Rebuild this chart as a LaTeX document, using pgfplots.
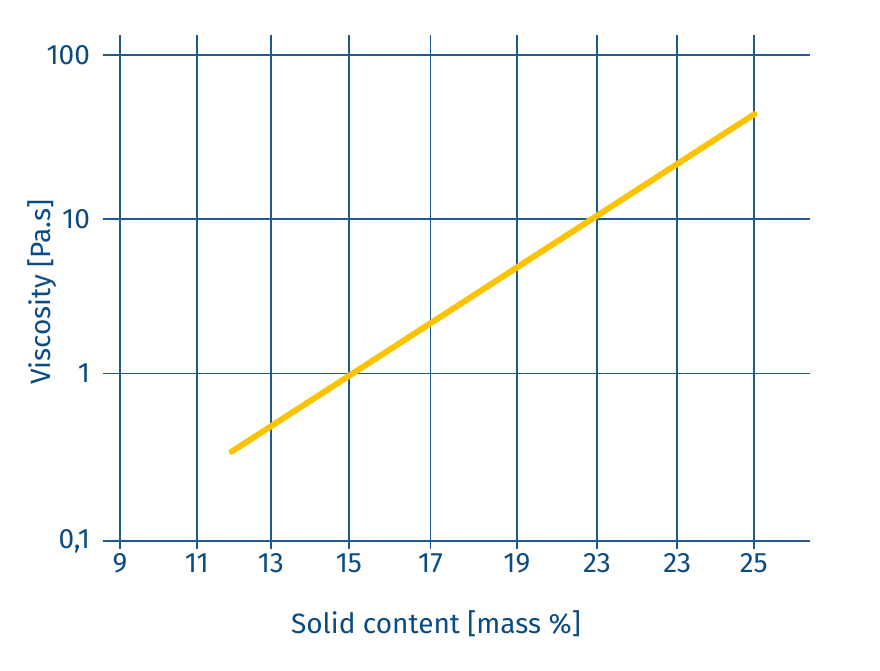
\documentclass[border=0pt]{standalone}
\usepackage{fontspec}
\setmainfont{Fira Sans}
\usepackage{pgfplots}
\pgfplotsset{compat=1.18}
\definecolor{navy}{RGB}{10,75,130}
\definecolor{gridblue}{RGB}{30,90,145}
\definecolor{gold}{RGB}{252,196,0}
\begin{document}
\begin{tikzpicture}
\begin{axis}[
  scale only axis, width=530.5pt, height=379.5pt,
  xmin=8.565, xmax=26.42,
  ymode=log, ymin=0.1, ymax=132.9,
  axis line style={draw=none},
  xtick={9,10.94,12.81,14.78,16.84,19.02,21.04,23.07,25},
  xticklabels={9,11,13,15,17,19,23,23,25},
  ytick={0.1,1.084,9.72,100},
  yticklabels={0{,}1,1,10,100},
  minor ytick={}, minor xtick={},
  grid=major,
  major grid style={gridblue, line width=1.2pt},
  tick align=outside, xtick pos=lower, ytick pos=left,
  major tick length=6pt,
  xtick style={gridblue, line width=1.2pt},
  ytick style={draw=none},
  ticklabel style={font=\fontsize{21}{25}\selectfont, text=navy},
  label style={font=\fontsize{21}{25}\selectfont, text=navy},
  /pgf/number format/assume math mode=true,
  xlabel={Solid content [mass \%]},
  ylabel={Viscosity [Pa.s]},
  xlabel style={at={(rel axis cs:0.4712,-0.1838)}, anchor=base},
  ylabel style={at={(rel axis cs:-0.0745,0.492)}, anchor=base},
  clip=false,
]
\addplot[gold, line width=4.5pt, line cap=round] coordinates {(11.82,0.356) (25.02,43.2)};
\coordinate (bl) at (rel axis cs:-0.1452,-0.2569);
\coordinate (tr) at (rel axis cs:1.099,1.0692);
\end{axis}
\path (bl) rectangle (tr);
\end{tikzpicture}
\end{document}
